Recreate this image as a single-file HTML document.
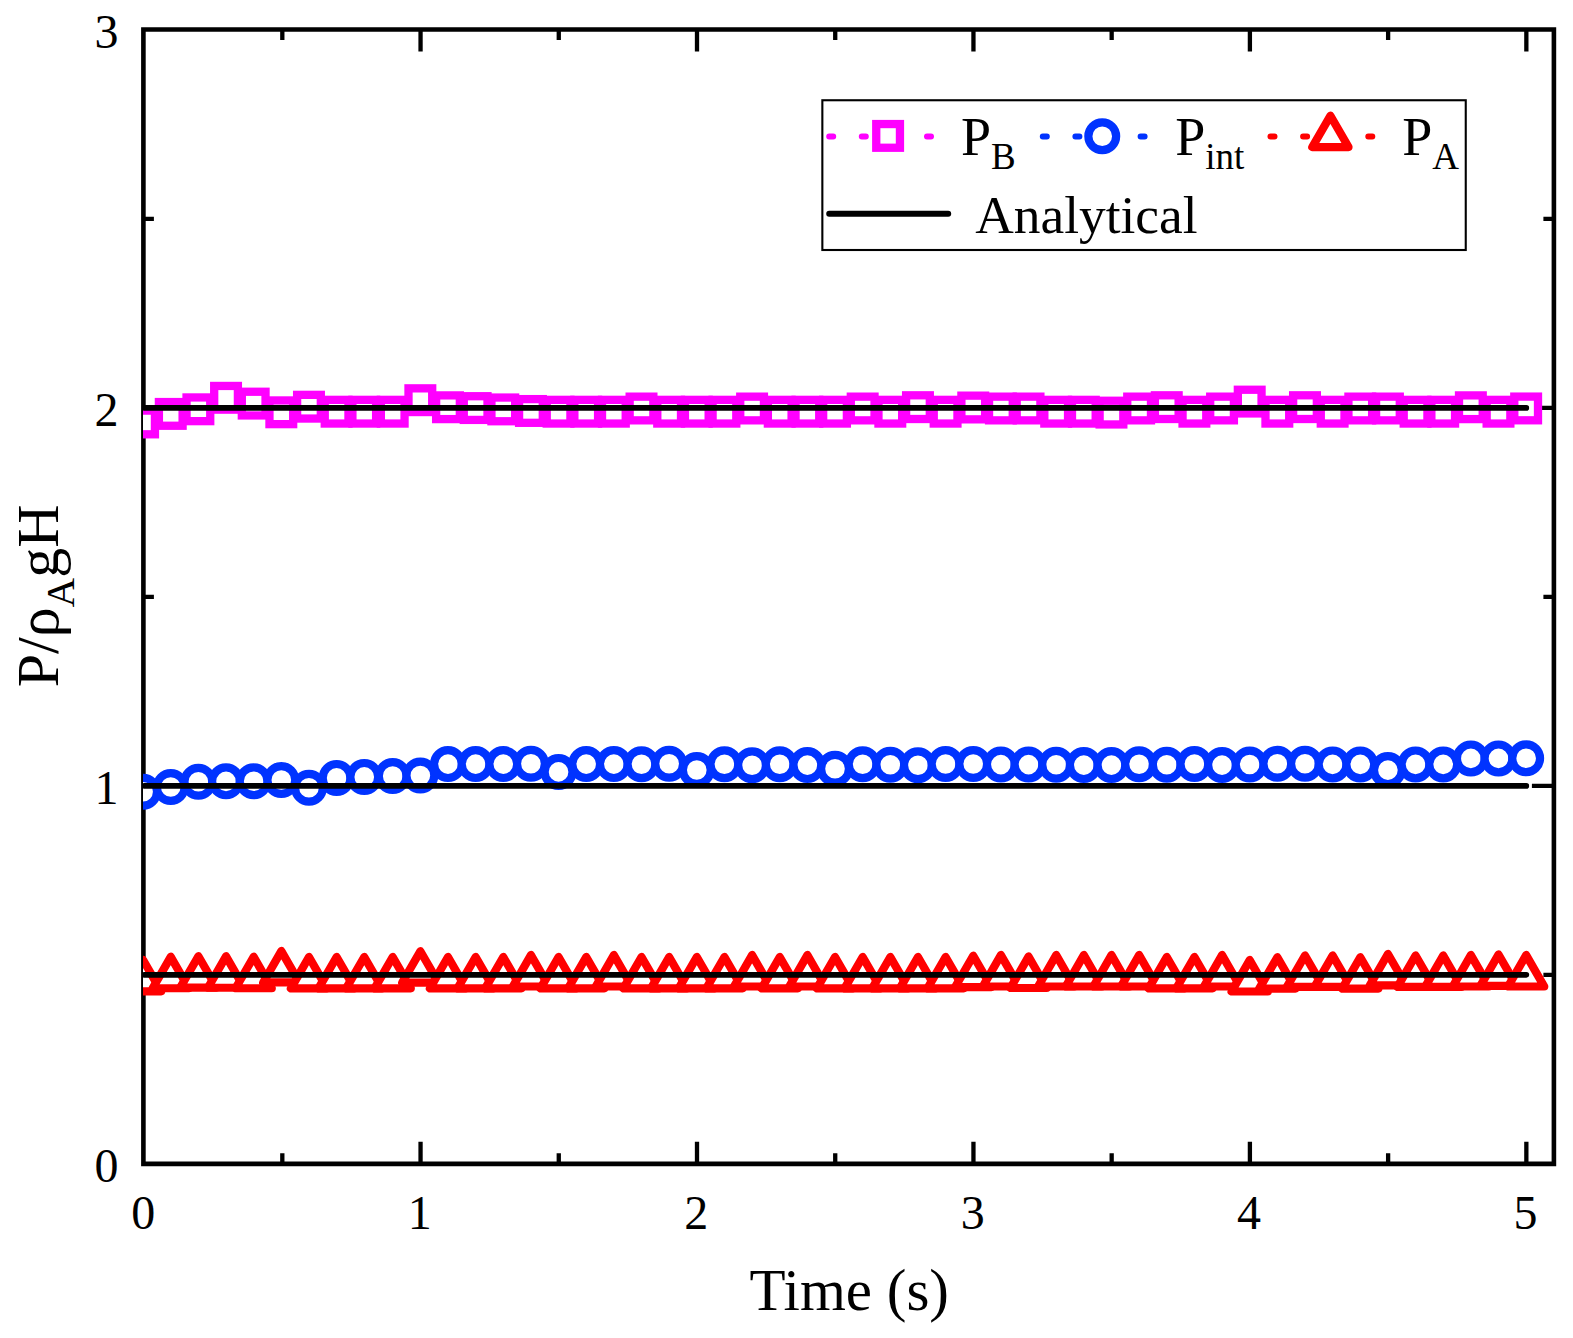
<!DOCTYPE html><html><head><meta charset="utf-8"><title>P/ρAgH vs Time</title>
<style>html,body{margin:0;padding:0;background:#fff;overflow:hidden}svg{display:block}text{font-family:"Liberation Serif","Times New Roman",serif;fill:#000}</style>
</head><body>
<svg width="1573" height="1338" viewBox="0 0 1573 1338">
<rect width="1573" height="1338" fill="#fff"/>
<defs><clipPath id="pc"><rect x="143" y="29.5" width="1410.9" height="1134.35"/></clipPath></defs>
<g stroke="#000" stroke-width="4.6" fill="none" stroke-linecap="square">
<path d="M143.4,29.5H1553.9V1163.85H143.4Z"/>
</g>
<path d="M420.55,1163.85v-22M420.55,29.5v22M697.00,1163.85v-22M697.00,29.5v22M973.45,1163.85v-22M973.45,29.5v22M1249.90,1163.85v-22M1249.90,29.5v22M1526.35,1163.85v-22M1526.35,29.5v22M282.32,1163.85v-10.5M282.32,29.5v10.5M558.77,1163.85v-10.5M558.77,29.5v10.5M835.23,1163.85v-10.5M835.23,29.5v10.5M1111.67,1163.85v-10.5M1111.67,29.5v10.5M1388.12,1163.85v-10.5M1388.12,29.5v10.5M143.4,785.88h22M1553.9,785.88h-22M143.4,407.91h22M1553.9,407.91h-22M143.4,974.86h10.5M1553.9,974.86h-10.5M143.4,596.89h10.5M1553.9,596.89h-10.5M143.4,218.92h10.5M1553.9,218.92h-10.5" stroke="#000" stroke-width="4.3" fill="none"/>
<g font-size="48" text-anchor="middle">
<text x="143.30" y="1229.4">0</text>
<text x="419.75" y="1229.4">1</text>
<text x="696.20" y="1229.4">2</text>
<text x="972.65" y="1229.4">3</text>
<text x="1249.10" y="1229.4">4</text>
<text x="1525.55" y="1229.4">5</text>
</g>
<g font-size="48" text-anchor="end">
<text x="118.5" y="1182.25">0</text>
<text x="118.5" y="804.28">1</text>
<text x="118.5" y="426.31">2</text>
<text x="118.5" y="48.34">3</text>
</g>
<text x="849.3" y="1310.1" font-size="59" text-anchor="middle">Time (s)</text>
<text transform="translate(58.1,595.9) rotate(-90)" font-size="60" text-anchor="middle">P/ρ<tspan font-size="41" dy="16">A</tspan><tspan dy="-16">gH</tspan></text>
<g clip-path="url(#pc)">
<g fill="#fff" stroke="#ff00ff" stroke-width="8.3" stroke-linejoin="miter">
<rect x="131.25" y="410.60" width="23.7" height="23.7"/>
<rect x="158.90" y="402.05" width="23.7" height="23.7"/>
<rect x="186.54" y="397.45" width="23.7" height="23.7"/>
<rect x="214.19" y="385.95" width="23.7" height="23.7"/>
<rect x="241.83" y="391.75" width="23.7" height="23.7"/>
<rect x="269.47" y="400.45" width="23.7" height="23.7"/>
<rect x="297.12" y="394.85" width="23.7" height="23.7"/>
<rect x="324.76" y="399.85" width="23.7" height="23.7"/>
<rect x="352.41" y="399.85" width="23.7" height="23.7"/>
<rect x="380.85" y="399.85" width="23.7" height="23.7"/>
<rect x="408.50" y="388.35" width="23.7" height="23.7"/>
<rect x="436.14" y="395.40" width="23.7" height="23.7"/>
<rect x="463.79" y="396.22" width="23.7" height="23.7"/>
<rect x="491.44" y="397.55" width="23.7" height="23.7"/>
<rect x="519.08" y="399.12" width="23.7" height="23.7"/>
<rect x="546.72" y="399.85" width="23.7" height="23.7"/>
<rect x="574.37" y="399.85" width="23.7" height="23.7"/>
<rect x="602.01" y="399.85" width="23.7" height="23.7"/>
<rect x="629.66" y="396.65" width="23.7" height="23.7"/>
<rect x="657.30" y="399.85" width="23.7" height="23.7"/>
<rect x="684.95" y="399.85" width="23.7" height="23.7"/>
<rect x="712.59" y="399.85" width="23.7" height="23.7"/>
<rect x="740.24" y="396.65" width="23.7" height="23.7"/>
<rect x="767.88" y="399.85" width="23.7" height="23.7"/>
<rect x="795.53" y="399.85" width="23.7" height="23.7"/>
<rect x="823.17" y="399.85" width="23.7" height="23.7"/>
<rect x="850.82" y="396.65" width="23.7" height="23.7"/>
<rect x="878.46" y="399.85" width="23.7" height="23.7"/>
<rect x="906.11" y="395.31" width="23.7" height="23.7"/>
<rect x="933.75" y="399.85" width="23.7" height="23.7"/>
<rect x="961.40" y="395.65" width="23.7" height="23.7"/>
<rect x="989.04" y="396.65" width="23.7" height="23.7"/>
<rect x="1016.69" y="396.65" width="23.7" height="23.7"/>
<rect x="1044.34" y="399.85" width="23.7" height="23.7"/>
<rect x="1071.98" y="399.85" width="23.7" height="23.7"/>
<rect x="1099.62" y="400.75" width="23.7" height="23.7"/>
<rect x="1127.27" y="396.65" width="23.7" height="23.7"/>
<rect x="1154.91" y="395.31" width="23.7" height="23.7"/>
<rect x="1182.56" y="399.85" width="23.7" height="23.7"/>
<rect x="1210.20" y="396.65" width="23.7" height="23.7"/>
<rect x="1237.85" y="389.75" width="23.7" height="23.7"/>
<rect x="1265.49" y="399.85" width="23.7" height="23.7"/>
<rect x="1293.14" y="395.31" width="23.7" height="23.7"/>
<rect x="1320.79" y="399.85" width="23.7" height="23.7"/>
<rect x="1348.43" y="396.65" width="23.7" height="23.7"/>
<rect x="1376.08" y="396.65" width="23.7" height="23.7"/>
<rect x="1403.72" y="399.85" width="23.7" height="23.7"/>
<rect x="1431.37" y="399.85" width="23.7" height="23.7"/>
<rect x="1459.01" y="395.40" width="23.7" height="23.7"/>
<rect x="1486.65" y="399.85" width="23.7" height="23.7"/>
<rect x="1514.30" y="396.60" width="23.7" height="23.7"/>
</g>
<g fill="#fff" stroke="#0033ff" stroke-width="8.2">
<circle cx="143.10" cy="791.70" r="13.9"/>
<circle cx="170.75" cy="787.00" r="13.9"/>
<circle cx="198.39" cy="781.80" r="13.9"/>
<circle cx="226.03" cy="781.35" r="13.9"/>
<circle cx="253.68" cy="781.30" r="13.9"/>
<circle cx="281.32" cy="780.00" r="13.9"/>
<circle cx="308.97" cy="787.70" r="13.9"/>
<circle cx="336.62" cy="777.90" r="13.9"/>
<circle cx="364.26" cy="776.90" r="13.9"/>
<circle cx="392.70" cy="776.05" r="13.9"/>
<circle cx="420.35" cy="775.50" r="13.9"/>
<circle cx="447.99" cy="764.10" r="13.9"/>
<circle cx="475.64" cy="764.10" r="13.9"/>
<circle cx="503.29" cy="764.10" r="13.9"/>
<circle cx="530.93" cy="763.80" r="13.9"/>
<circle cx="558.57" cy="771.90" r="13.9"/>
<circle cx="586.22" cy="764.10" r="13.9"/>
<circle cx="613.86" cy="764.10" r="13.9"/>
<circle cx="641.51" cy="764.30" r="13.9"/>
<circle cx="669.15" cy="763.80" r="13.9"/>
<circle cx="696.80" cy="769.95" r="13.9"/>
<circle cx="724.44" cy="764.20" r="13.9"/>
<circle cx="752.09" cy="765.20" r="13.9"/>
<circle cx="779.74" cy="764.20" r="13.9"/>
<circle cx="807.38" cy="765.10" r="13.9"/>
<circle cx="835.02" cy="768.70" r="13.9"/>
<circle cx="862.67" cy="764.20" r="13.9"/>
<circle cx="890.31" cy="764.70" r="13.9"/>
<circle cx="917.96" cy="765.30" r="13.9"/>
<circle cx="945.60" cy="764.00" r="13.9"/>
<circle cx="973.25" cy="763.95" r="13.9"/>
<circle cx="1000.89" cy="764.60" r="13.9"/>
<circle cx="1028.54" cy="764.60" r="13.9"/>
<circle cx="1056.18" cy="764.70" r="13.9"/>
<circle cx="1083.83" cy="765.10" r="13.9"/>
<circle cx="1111.47" cy="765.10" r="13.9"/>
<circle cx="1139.12" cy="764.20" r="13.9"/>
<circle cx="1166.76" cy="764.70" r="13.9"/>
<circle cx="1194.41" cy="764.00" r="13.9"/>
<circle cx="1222.05" cy="765.10" r="13.9"/>
<circle cx="1249.70" cy="764.45" r="13.9"/>
<circle cx="1277.34" cy="763.80" r="13.9"/>
<circle cx="1304.99" cy="763.80" r="13.9"/>
<circle cx="1332.63" cy="764.40" r="13.9"/>
<circle cx="1360.28" cy="764.40" r="13.9"/>
<circle cx="1387.92" cy="770.10" r="13.9"/>
<circle cx="1415.57" cy="764.40" r="13.9"/>
<circle cx="1443.21" cy="764.40" r="13.9"/>
<circle cx="1470.86" cy="758.40" r="13.9"/>
<circle cx="1498.50" cy="758.40" r="13.9"/>
<circle cx="1526.15" cy="758.30" r="13.9"/>
</g>
<g fill="#fff" stroke="#ff0000" stroke-width="8.2" stroke-linejoin="round">
<path d="M143.10,960.00L125.00,991.35L161.20,991.35Z"/>
<path d="M170.75,956.90L152.65,988.25L188.84,988.25Z"/>
<path d="M198.39,956.20L180.29,987.55L216.49,987.55Z"/>
<path d="M226.03,956.40L207.94,987.75L244.13,987.75Z"/>
<path d="M253.68,956.90L235.58,988.25L271.78,988.25Z"/>
<path d="M281.32,951.10L263.22,982.45L299.43,982.45Z"/>
<path d="M308.97,957.00L290.87,988.35L327.07,988.35Z"/>
<path d="M336.62,957.00L318.51,988.35L354.72,988.35Z"/>
<path d="M364.26,957.00L346.16,988.35L382.36,988.35Z"/>
<path d="M392.70,957.00L374.60,988.35L410.81,988.35Z"/>
<path d="M420.35,951.20L402.25,982.55L438.45,982.55Z"/>
<path d="M447.99,957.00L429.89,988.35L466.09,988.35Z"/>
<path d="M475.64,957.00L457.54,988.35L493.74,988.35Z"/>
<path d="M503.29,957.00L485.19,988.35L521.38,988.35Z"/>
<path d="M530.93,955.15L512.83,986.50L549.03,986.50Z"/>
<path d="M558.57,957.00L540.47,988.35L576.67,988.35Z"/>
<path d="M586.22,957.00L568.12,988.35L604.32,988.35Z"/>
<path d="M613.86,955.15L595.76,986.50L631.96,986.50Z"/>
<path d="M641.51,957.00L623.41,988.35L659.61,988.35Z"/>
<path d="M669.15,957.00L651.05,988.35L687.25,988.35Z"/>
<path d="M696.80,957.00L678.70,988.35L714.90,988.35Z"/>
<path d="M724.44,957.00L706.34,988.35L742.54,988.35Z"/>
<path d="M752.09,955.15L733.99,986.50L770.19,986.50Z"/>
<path d="M779.74,957.00L761.63,988.35L797.84,988.35Z"/>
<path d="M807.38,955.15L789.28,986.50L825.48,986.50Z"/>
<path d="M835.02,957.00L816.92,988.35L853.12,988.35Z"/>
<path d="M862.67,957.00L844.57,988.35L880.77,988.35Z"/>
<path d="M890.31,957.00L872.21,988.35L908.41,988.35Z"/>
<path d="M917.96,957.00L899.86,988.35L936.06,988.35Z"/>
<path d="M945.60,957.00L927.50,988.35L963.70,988.35Z"/>
<path d="M973.25,955.70L955.15,987.05L991.35,987.05Z"/>
<path d="M1000.89,955.15L982.79,986.50L1018.99,986.50Z"/>
<path d="M1028.54,956.65L1010.44,988.00L1046.64,988.00Z"/>
<path d="M1056.18,955.15L1038.09,986.50L1074.28,986.50Z"/>
<path d="M1083.83,955.15L1065.73,986.50L1101.93,986.50Z"/>
<path d="M1111.47,955.15L1093.38,986.50L1129.57,986.50Z"/>
<path d="M1139.12,955.15L1121.02,986.50L1157.22,986.50Z"/>
<path d="M1166.76,957.00L1148.66,988.35L1184.86,988.35Z"/>
<path d="M1194.41,957.00L1176.31,988.35L1212.51,988.35Z"/>
<path d="M1222.05,955.15L1203.95,986.50L1240.15,986.50Z"/>
<path d="M1249.70,960.15L1231.60,991.50L1267.80,991.50Z"/>
<path d="M1277.34,957.25L1259.24,988.60L1295.44,988.60Z"/>
<path d="M1304.99,955.55L1286.89,986.90L1323.09,986.90Z"/>
<path d="M1332.63,955.55L1314.54,986.90L1350.73,986.90Z"/>
<path d="M1360.28,957.25L1342.18,988.60L1378.38,988.60Z"/>
<path d="M1387.92,953.95L1369.83,985.30L1406.02,985.30Z"/>
<path d="M1415.57,955.55L1397.47,986.90L1433.67,986.90Z"/>
<path d="M1443.21,955.55L1425.12,986.90L1461.31,986.90Z"/>
<path d="M1470.86,955.15L1452.76,986.50L1488.96,986.50Z"/>
<path d="M1498.50,954.55L1480.40,985.90L1516.60,985.90Z"/>
<path d="M1526.15,955.15L1508.05,986.50L1544.25,986.50Z"/>
</g>
<g stroke="#000" stroke-width="5.6" stroke-linecap="round" fill="none">
<path d="M144.10,407.91H1526.35"/>
<path d="M144.10,785.88H1526.35"/>
<path d="M144.10,974.86H1526.35"/>
</g>
</g>
<rect x="822.35" y="100.25" width="643.4" height="149.75" fill="#fff" stroke="#000" stroke-width="2.1"/>
<path d="M829.20,136.4H951.20" stroke="#ff00ff" stroke-width="6" stroke-linecap="round" stroke-dasharray="4 28.6" fill="none"/><g fill="#fff" stroke="#ff00ff" stroke-width="8.3"><rect x="876.25" y="124.05" width="23.7" height="23.7"/></g>
<path d="M1042.80,136.4H1164.80" stroke="#0033ff" stroke-width="6" stroke-linecap="round" stroke-dasharray="4 28.6" fill="none"/><g fill="#fff" stroke="#0033ff" stroke-width="8.2"><circle cx="1102.25" cy="136.25" r="13.9"/></g>
<path d="M1270.50,136.4H1392.50" stroke="#ff0000" stroke-width="6" stroke-linecap="round" stroke-dasharray="4 28.6" fill="none"/><g fill="#fff" stroke="#ff0000" stroke-width="8.2" stroke-linejoin="round"><path d="M1330.40,115.70L1312.30,147.05L1348.50,147.05Z"/></g>
<g font-size="54">
<text x="960.9" y="155.1">P<tspan font-size="37" dy="13.8">B</tspan></text>
<text x="1175.3" y="155.1">P<tspan font-size="37" dy="13.8">int</tspan></text>
<text x="1402.2" y="155.1">P<tspan font-size="37" dy="13.8">A</tspan></text>
<text x="975.2" y="233" font-size="53.4">Analytical</text>
</g>
<path d="M829.2,213.8H948.2" stroke="#000" stroke-width="6" stroke-linecap="round"/>
</svg></body></html>
